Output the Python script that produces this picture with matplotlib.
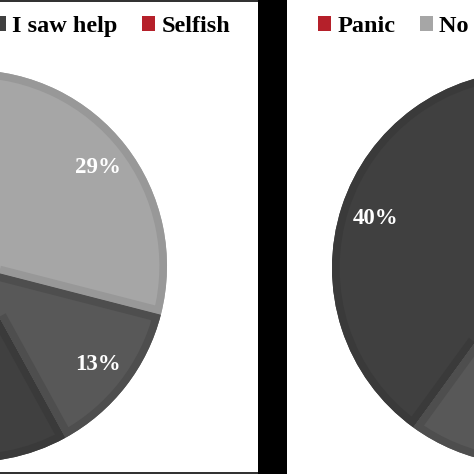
import matplotlib
matplotlib.use("Agg")
import matplotlib.pyplot as plt
from matplotlib.patches import Rectangle, PathPatch

# ---- data ----
left_labels = ["I helped", "Calm", "I saw help", "Selfish"]
left_values = [29, 13, 40, 18]
right_labels = ["Panic", "No Idea", "Calm", "Helped"]
right_values = [15, 30, 15, 40]

LIGHT, MID, DARK, RED = "#a6a6a6", "#585858", "#404040", "#b5202a"
LIGHT_E, MID_E, DARK_E, RED_E = "#989898", "#4e4e4e", "#3a3a3a", "#9a1a22"
left_colors = [LIGHT, MID, DARK, RED]
left_edges = [LIGHT_E, MID_E, DARK_E, RED_E]
right_colors = [RED, LIGHT, MID, DARK]
right_edges = [RED_E, LIGHT_E, MID_E, DARK_E]

W = 474
fig = plt.figure(figsize=(4.74, 4.74), dpi=100)
fig.patch.set_facecolor("white")

FONT = ["Liberation Serif", "DejaVu Serif"]


def px_axes(cx, cy, r):
    return fig.add_axes([(cx - r) / W, (W - (cy + r)) / W, 2 * r / W, 2 * r / W])


def draw_pie(ax, values, colors, edges):
    wedges, texts, autotexts = ax.pie(
        values, colors=colors, startangle=90, counterclock=False,
        autopct=lambda p: f"{p:.0f}%", pctdistance=0.82,
        textprops=dict(color="white", fontsize=16.5, fontweight="bold", family=FONT),
        wedgeprops=dict(linewidth=0, edgecolor="none"))
    ax.set_xlim(-1, 1)
    ax.set_ylim(-1, 1)
    ax.set_aspect("equal")
    ax.axis("off")
    # bevel: overlay edge-only copies clipped to each wedge
    for w, ec in zip(wedges, edges):
        w._recompute_path()
        path = w.get_path()
        pp = PathPatch(path, facecolor="none", edgecolor=ec, linewidth=11,
                       transform=w.get_transform(), zorder=w.get_zorder() + 0.1)
        ax.add_patch(pp)
        pp.set_clip_path(path, w.get_transform())
    for t in autotexts:
        t.set_zorder(5)
    return wedges


axL = px_axes(-29, 266, 196)
wl = draw_pie(axL, left_values, left_colors, left_edges)
axR = px_axes(529, 268, 197)
wr = draw_pie(axR, right_values, right_colors, right_edges)

# panel frames
fig.patches.append(Rectangle((258 / W, 0), 29 / W, 1, transform=fig.transFigure,
                             facecolor="black", edgecolor="none", zorder=5))
fig.patches.append(Rectangle((0, 1 - 2 / W), 258 / W, 2 / W, transform=fig.transFigure,
                             facecolor="#333333", edgecolor="none", zorder=5))
fig.patches.append(Rectangle((0, 0), 258 / W, 2 / W, transform=fig.transFigure,
                             facecolor="#333333", edgecolor="none", zorder=5))

leg_kw = dict(ncol=4, frameon=False, borderpad=0, borderaxespad=0,
              handlelength=0.54, handleheight=0.54, handletextpad=0.25,
              columnspacing=1.03, prop=dict(family=FONT, weight="bold", size=17.5))
hl = [Rectangle((0, 0), 1, 1, facecolor=c, edgecolor="none") for c in left_colors]
fig.legend(hl, left_labels, loc="upper right",
           bbox_to_anchor=(230 / W, 1 - 16 / W), **leg_kw)
hr = [Rectangle((0, 0), 1, 1, facecolor=c, edgecolor="none") for c in right_colors]
fig.legend(hr, right_labels, loc="upper left",
           bbox_to_anchor=(318 / W, 1 - 16 / W), **leg_kw)

fig.savefig("out.png", dpi=100)
